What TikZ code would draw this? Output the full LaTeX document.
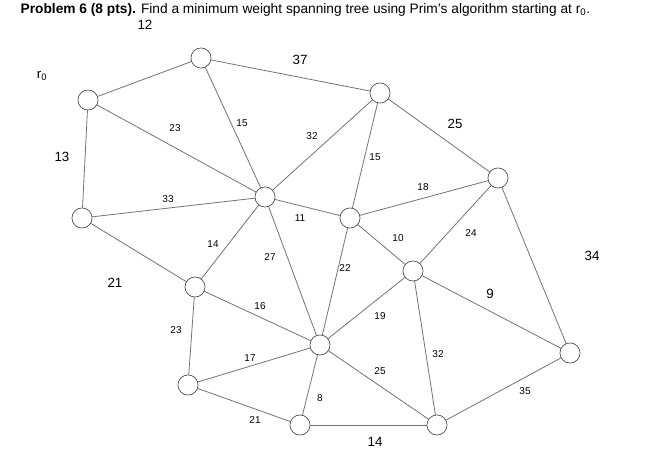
\documentclass[tikz,border=0pt]{standalone}
\usepackage{fontspec}
\setmainfont{Liberation Sans}
\begin{document}
\begin{tikzpicture}[x=0.75pt,y=-0.75pt,
  vtx/.style={circle,draw=black!70,fill=white,minimum size=15pt,inner sep=0pt},
  edge/.style={draw=black!55,line width=0.6pt},
  sl/.style={font=\fontsize{7.5}{9}\selectfont},
  bl/.style={font=\fontsize{10}{12}\selectfont}]
\useasboundingbox (0,0) rectangle (664,459);
\node[anchor=west,font=\fontsize{10.3}{12}\selectfont] (title) at (16,10) {\textbf{Problem 6 (8 pts).} Find a minimum weight spanning tree using Prim's algorithm starting at r\textsubscript{0}.};
\node[bl] (r0lab) at (42,76) {r\textsubscript{0}};
\node[vtx] (r) at (88,100) {};
\node[vtx] (a) at (201,58) {};
\node[vtx] (b) at (380,93) {};
\node[vtx] (c) at (265,197) {};
\node[vtx] (d) at (82,218) {};
\node[vtx] (e) at (350,218) {};
\node[vtx] (f) at (498,178) {};
\node[vtx] (g) at (413,271) {};
\node[vtx] (h) at (195,287) {};
\node[vtx] (i) at (320,345) {};
\node[vtx] (j) at (570,353) {};
\node[vtx] (k) at (188,385) {};
\node[vtx] (l) at (300,425) {};
\node[vtx] (m) at (437,425) {};
\foreach \u/\v in {r/a,r/d,r/c,a/c,a/b,b/c,b/e,b/f,d/c,d/h,c/e,c/h,c/i,e/f,e/g,e/i,f/g,f/j,g/j,g/i,g/m,h/i,h/k,k/i,k/l,l/i,i/m,l/m,m/j}
  \draw[edge] (\u) -- (\v);
\node[bl] (w1) at (145,25) {12};
\node[bl] (w2) at (300,60) {37};
\node[bl] (w3) at (62,157) {13};
\node[bl] (w4) at (455,124) {25};
\node[bl] (w5) at (592,256) {34};
\node[bl] (w6) at (115,283) {21};
\node[bl] (w7) at (490,294) {9};
\node[bl] (w8) at (375,442) {14};
\node[sl] (s1) at (175,128) {23};
\node[sl] (s2) at (242,123) {15};
\node[sl] (s3) at (312,136) {32};
\node[sl] (s4) at (375,157) {15};
\node[sl] (s5) at (168,199) {33};
\node[sl] (s6) at (423,187) {18};
\node[sl] (s7) at (300,218) {11};
\node[sl] (s8) at (398,238) {10};
\node[sl] (s9) at (471,233) {24};
\node[sl] (s10) at (213,244) {14};
\node[sl] (s11) at (270,257) {27};
\node[sl] (s12) at (345,268) {22};
\node[sl] (s13) at (260,306) {16};
\node[sl] (s14) at (380,316) {19};
\node[sl] (s15) at (176,330) {23};
\node[sl] (s16) at (250,358) {17};
\node[sl] (s17) at (438,354) {32};
\node[sl] (s18) at (380,371) {25};
\node[sl] (s19) at (320,398) {8};
\node[sl] (s20) at (525,391) {35};
\node[sl] (s21) at (255,420) {21};
\foreach \n in {r,a,b,c,d,e,f,g,h,i,j,k,l,m} \node[vtx] at (\n) {};
\end{tikzpicture}
\end{document}
